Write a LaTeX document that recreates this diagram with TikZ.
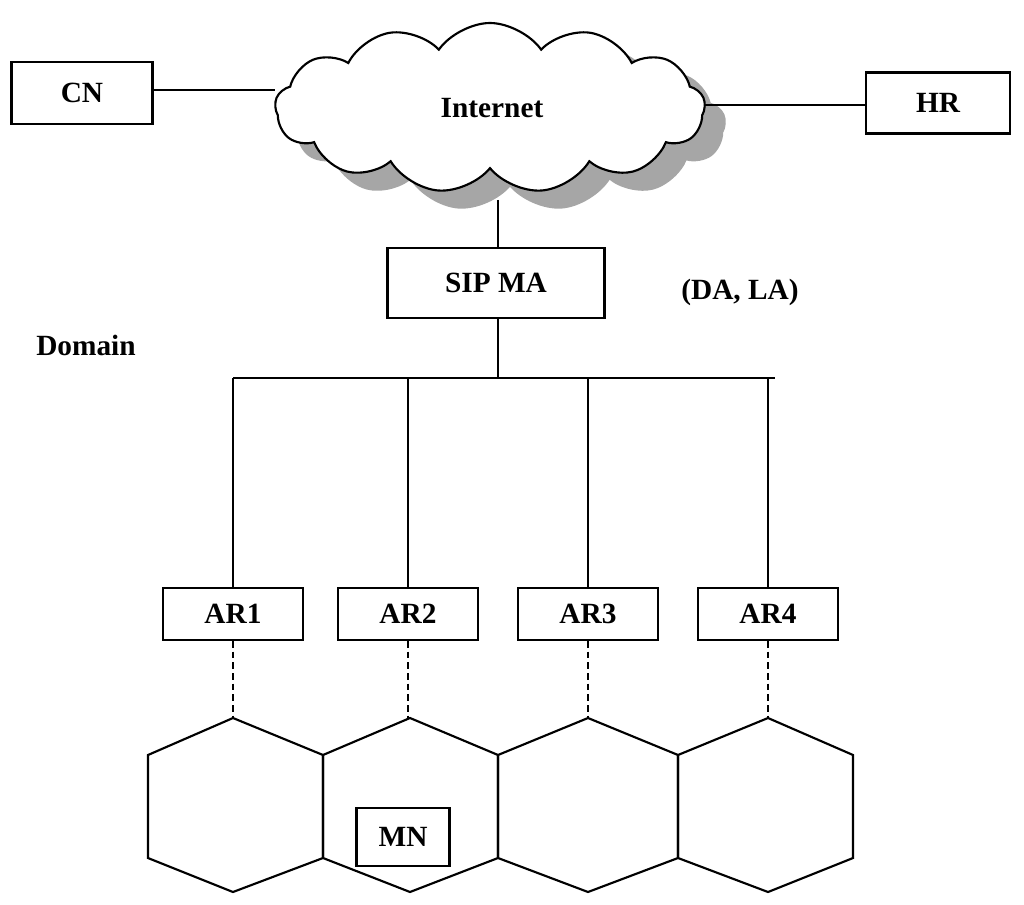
\documentclass[tikz,border=0pt]{standalone}
\usepackage{fontspec}
\setmainfont{Liberation Serif}
\usetikzlibrary{shapes.symbols}
\begin{document}
\begin{tikzpicture}[x=0.75pt,y=-0.75pt,line width=1.6pt,
  box/.style={draw,minimum width=#1*0.75pt,inner sep=0pt,font=\fontsize{22}{26}\selectfont\bfseries},
  lbl/.style={font=\fontsize{22}{26}\selectfont\bfseries},
  cl/.style={cloud,cloud puffs=13,cloud puff arc=110,aspect=2.6,minimum width=430*0.75pt,minimum height=170*0.75pt}]
\useasboundingbox (0,0) rectangle (1024,905);
\node[cl,fill=gray!70,draw=gray!70] (sh) at (510,125) {};
\node[cl,draw,fill=white] (net) at (490,108) {};
\node[lbl] at (492,108) {Internet};
\node[box=141,minimum height=62*0.75pt] (cn) at (82,93) {CN};
\node[box=144,minimum height=61*0.75pt] (hr) at (938,103) {HR};
\node[box=217,minimum height=70*0.75pt] (sip) at (496,283) {SIP MA};
\node[lbl] at (740,292) {(DA, LA)};
\node[lbl] at (86,345) {Domain};
\coordinate (cl) at (275,90); \coordinate (cr) at (705,105); \coordinate (cb) at (498,200);
\draw[line width=1.1pt] (cn.east |- cl) -- (cl);
\draw[line width=1.1pt] (cr) -- (hr.west |- cr);
\draw[line width=1.1pt] (cb) -- (cb |- sip.north);
\coordinate (bl) at (233,378); \coordinate (br) at (775,378); \coordinate (bm) at (498,378);
\draw (bl) -- (br);
\draw[line width=1.1pt] (sip.south -| bm) -- (bm);
\foreach \i/\x in {1/233,2/408,3/588,4/768}{
  \node[box=140,minimum height=52*0.75pt] (ar\i) at (\x,614) {AR\i};
  \coordinate (t\i) at (\x,378);
  \coordinate (h\i) at (\x,718);
  \draw[line width=1.1pt] (t\i) -- (ar\i.north);
  \draw[line width=1.1pt,dash pattern=on 5pt off 3pt] (ar\i.south) -- (h\i);
}
\foreach \l/\c/\r in {148/233/323,323/410/498,498/588/678,678/768/853}{
  \draw (\c,718) -- (\r,755) -- (\r,858) -- (\c,892) -- (\l,858) -- (\l,755) -- cycle;
}
\node[box=93,minimum height=58*0.75pt] (mn) at (403,837) {MN};
\end{tikzpicture}
\end{document}
